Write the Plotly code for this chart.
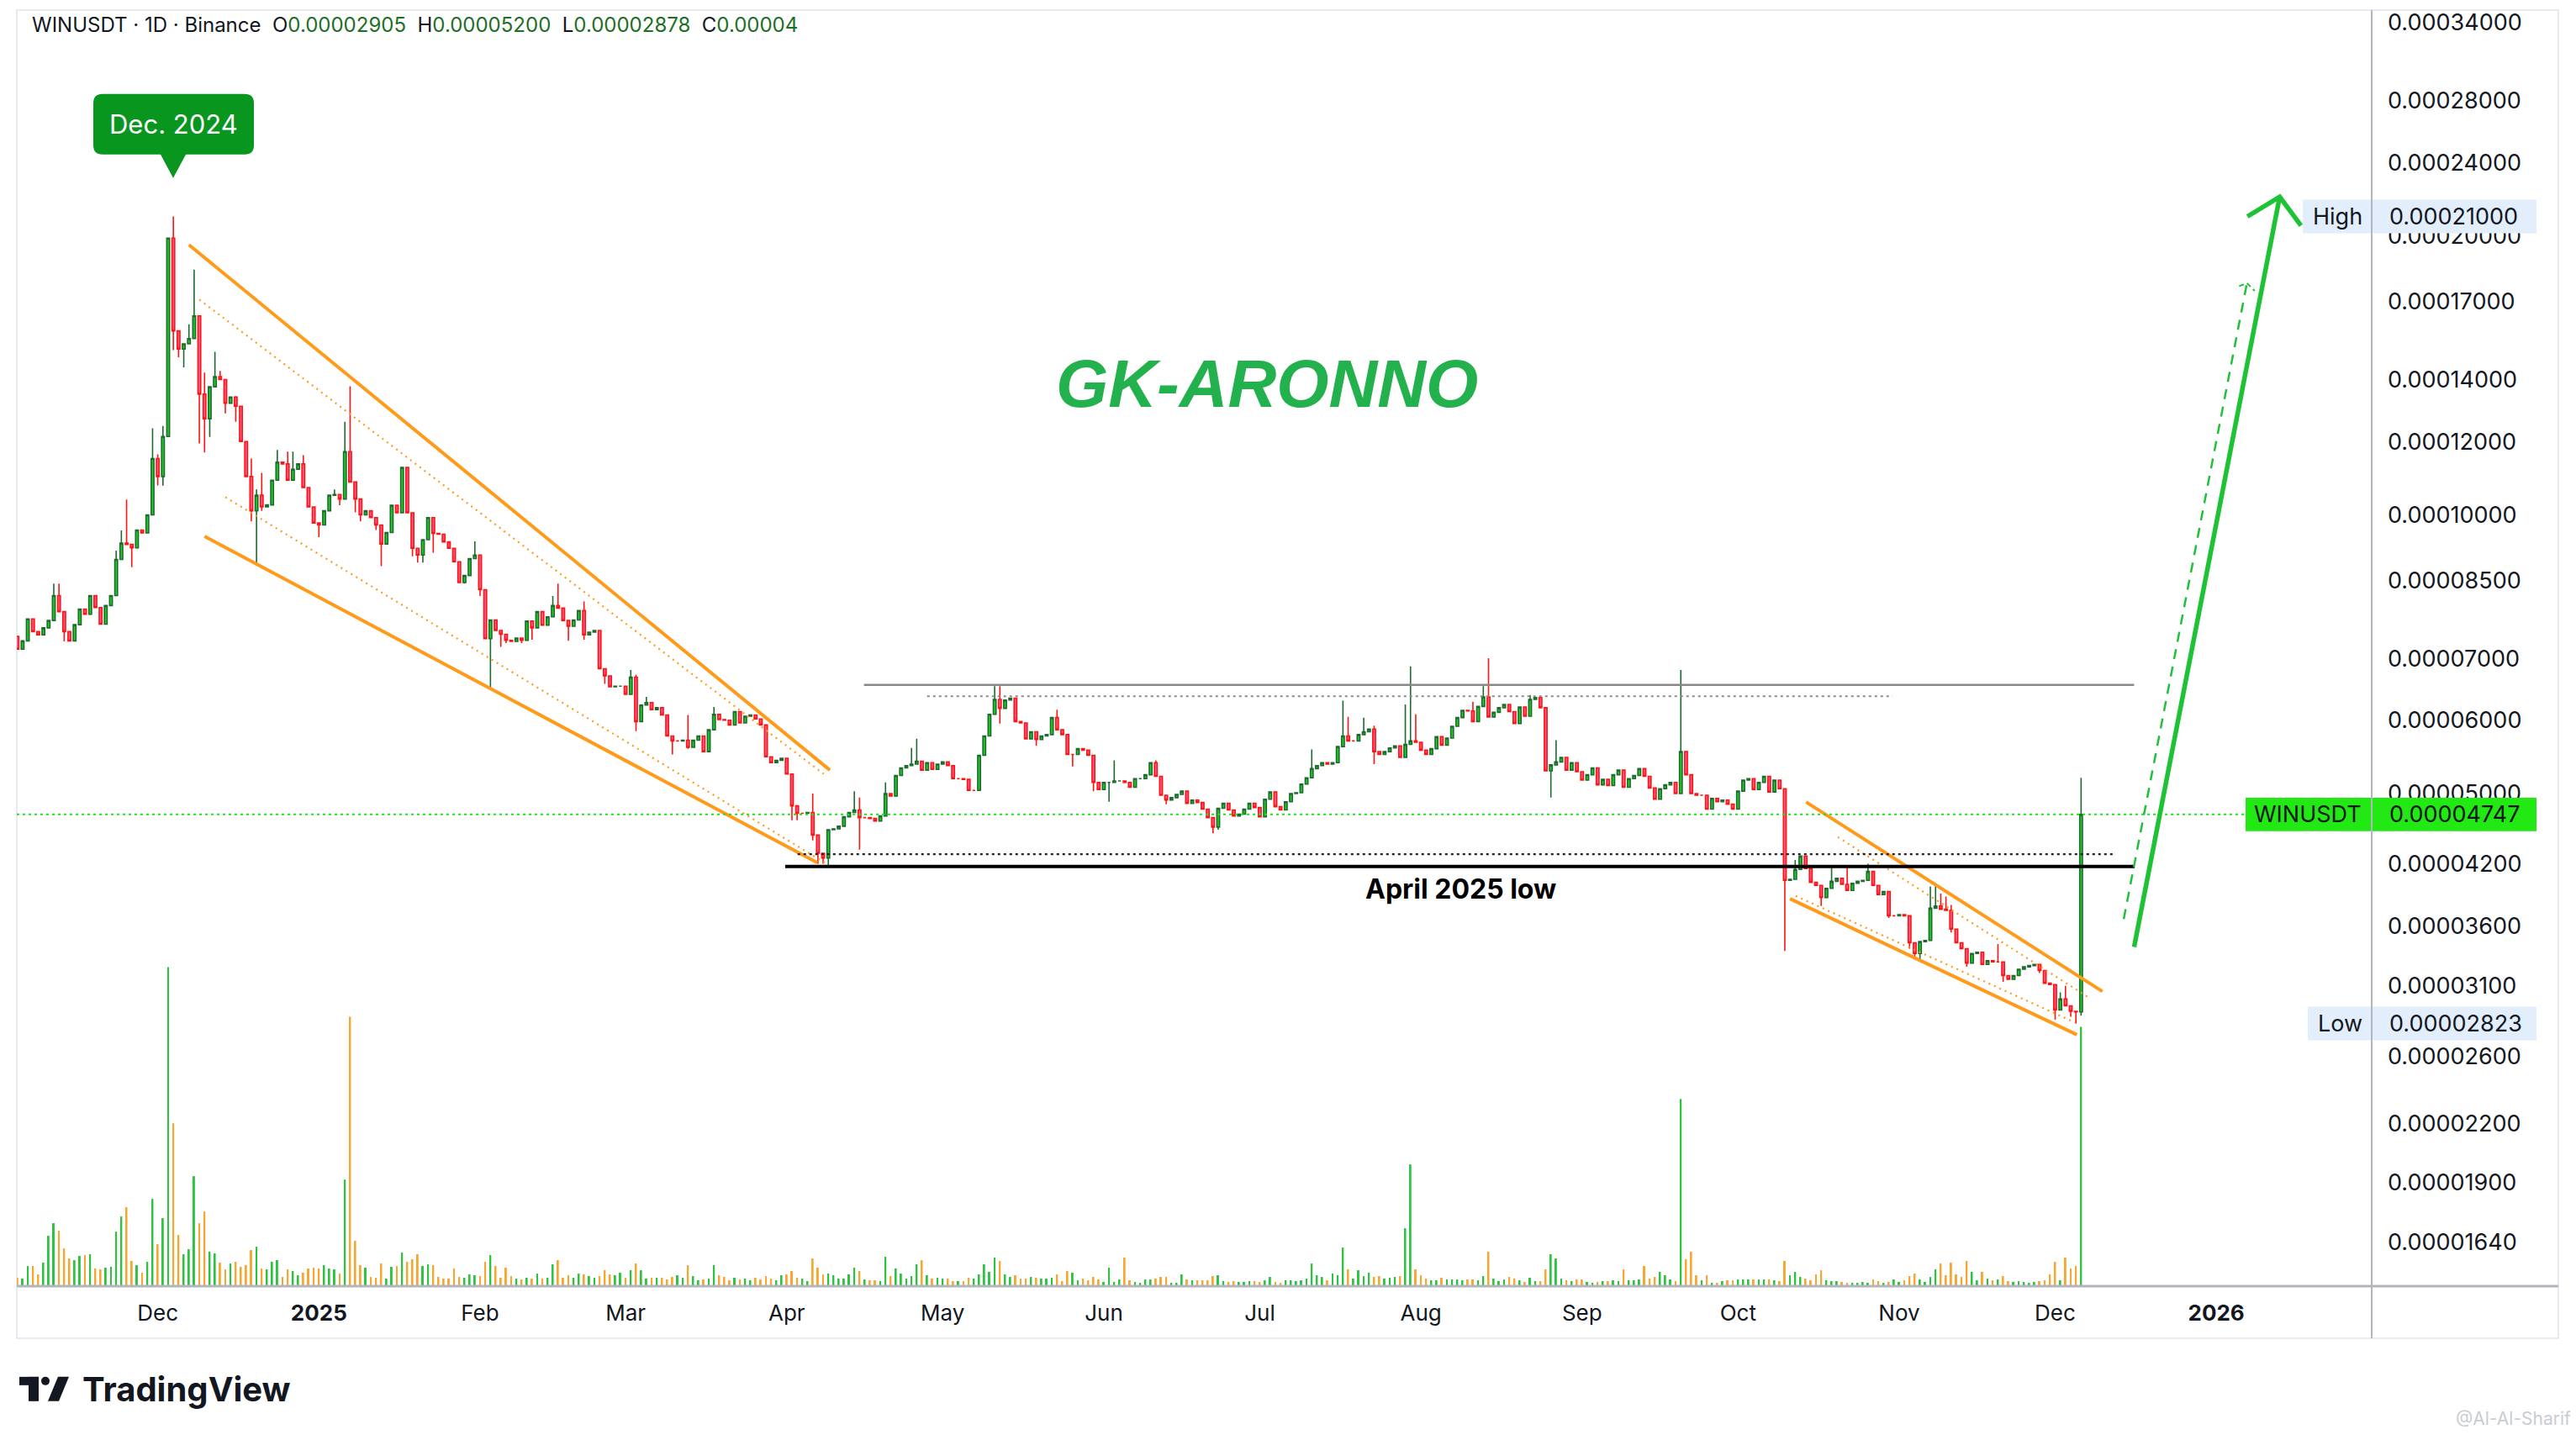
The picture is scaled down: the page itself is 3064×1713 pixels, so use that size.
import math
import pandas as pd
import plotly.graph_objects as go

# ---------------- canvas geometry (pixels) ----------------
W, H = 3064, 1713
PL, PR, PT, PB = 20, 2821, 10, 1530      # plot area
PX_PER_DAY = 6.183
SCALE = 1e-5                              # prices below are in units of 1e-5 USDT

# ---------------- data ----------------
start_date = "2024-11-04"
first_open = 7.39

closes = [
    7.16, 7.31, 7.72, 7.48, 7.42, 7.55, 7.69, 8.18, 7.86, 7.48,
    7.31, 7.61, 7.91, 7.81, 8.18, 7.94, 7.62, 7.98, 8.18, 8.95,
    9.32, 9.29, 9.21, 9.63, 9.56, 10.0, 11.5, 11.0, 12.15, 19.9,
    15.8, 15.1, 15.3, 15.5, 16.4, 13.5, 12.7, 13.75, 14.1, 14.0,
    13.2, 13.4, 13.1, 12.0, 11.0, 10.1, 10.5, 10.2, 10.25, 10.9,
    11.4, 11.35, 10.9, 11.2, 11.35, 10.7, 10.2, 9.8, 9.75, 10.1,
    10.5, 10.52, 10.4, 11.7, 10.85, 10.4, 10.0, 10.1, 9.93, 9.75,
    9.3, 9.57, 10.24, 10.05, 11.25, 10.05, 9.2, 9.05, 9.4, 9.93,
    9.55, 9.53, 9.35, 9.2, 8.9, 8.45, 8.6, 8.97, 9.05, 8.3,
    7.35, 7.7, 7.5, 7.43, 7.32, 7.3, 7.36, 7.32, 7.68, 7.55,
    7.86, 7.6, 7.76, 7.98, 7.93, 7.69, 7.58, 7.7, 7.88, 7.42,
    7.47, 7.5, 6.82, 6.70, 6.52, 6.53, 6.53, 6.40, 6.68, 5.98,
    6.23, 6.27, 6.16, 6.19, 6.08, 5.77, 5.70, 5.70, 5.71, 5.61,
    5.71, 5.77, 5.55, 5.86, 6.09, 6.01, 6.0, 5.93, 6.13, 5.96,
    6.06, 6.08, 6.02, 5.93, 5.48, 5.40, 5.43, 5.46, 5.25, 4.85,
    4.76, 4.76, 4.77, 4.51, 4.31, 4.26, 4.57, 4.58, 4.61, 4.72,
    4.77, 4.80, 4.71, 4.71, 4.70, 4.67, 4.73, 5.0, 4.97, 5.23,
    5.33, 5.36, 5.38, 5.42, 5.30, 5.40, 5.31, 5.38, 5.41, 5.36,
    5.19, 5.19, 5.18, 5.04, 5.04, 5.50, 5.77, 6.09, 6.32, 6.18,
    6.31, 6.34, 5.98, 5.96, 5.73, 5.83, 5.72, 5.77, 5.79, 6.04,
    5.86, 5.79, 5.51, 5.51, 5.59, 5.57, 5.50, 5.14, 5.05, 5.14,
    5.14, 5.16, 5.16, 5.14, 5.08, 5.19, 5.19, 5.24, 5.40, 5.22,
    4.98, 4.92, 4.95, 4.99, 5.03, 4.88, 4.92, 4.89, 4.81, 4.71,
    4.60, 4.82, 4.88, 4.80, 4.73, 4.75, 4.81, 4.88, 4.83, 4.72,
    4.93, 5.02, 4.84, 4.80, 4.90, 5.00, 5.01, 5.12, 5.20, 5.32,
    5.36, 5.40, 5.38, 5.40, 5.62, 5.77, 5.70, 5.70, 5.79, 5.83,
    5.87, 5.55, 5.51, 5.55, 5.60, 5.63, 5.47, 5.65, 5.70, 5.68,
    5.57, 5.51, 5.59, 5.76, 5.64, 5.74, 5.91, 6.04, 6.15, 6.14,
    5.98, 6.21, 6.36, 6.05, 6.12, 6.19, 6.24, 6.13, 5.95, 6.20,
    6.06, 6.32, 6.35, 6.19, 5.29, 5.37, 5.41, 5.47, 5.30, 5.40,
    5.28, 5.17, 5.24, 5.33, 5.11, 5.18, 5.10, 5.24, 5.30, 5.08,
    5.19, 5.23, 5.32, 5.22, 5.07, 4.93, 5.06, 5.11, 5.14, 5.00,
    5.55, 5.24, 5.00, 4.98, 4.98, 4.81, 4.94, 4.90, 4.92, 4.87,
    4.81, 5.03, 5.17, 5.19, 5.05, 5.14, 5.22, 5.02, 5.17, 5.06,
    4.03, 4.04, 4.14, 4.28, 4.15, 4.01, 3.98, 3.86, 3.95, 4.02,
    4.05, 3.99, 3.93, 4.00, 4.02, 4.03, 4.12, 3.98, 3.89, 3.92,
    3.69, 3.69, 3.70, 3.69, 3.45, 3.36, 3.46, 3.47, 3.76, 3.78,
    3.75, 3.74, 3.57, 3.45, 3.40, 3.28, 3.36, 3.37, 3.27, 3.30,
    3.29, 3.29, 3.18, 3.15, 3.18, 3.23, 3.25, 3.26, 3.27, 3.22,
    3.12, 3.11, 2.92, 3.00, 2.95, 2.91, 2.905, 4.747,
]

# notable wicks (candle index -> price)
wick_high = {
    7: 8.43, 8: 8.43, 19: 9.15, 20: 9.62, 21: 10.39, 26: 12.40, 27: 11.62, 28: 12.47,
    30: 21.0, 33: 16.06, 34: 18.40, 36: 14.24, 38: 15.0, 39: 14.3, 42: 13.43, 45: 11.5,
    46: 10.65, 47: 11.1, 50: 11.75, 52: 11.7, 53: 11.7, 55: 11.6, 61: 10.65, 63: 12.6,
    64: 13.77, 69: 9.93, 88: 9.36, 103: 8.17, 104: 8.43, 109: 8.06, 118: 6.80, 119: 6.72,
    121: 6.36, 129: 6.08, 134: 6.20, 153: 5.0, 161: 5.03, 162: 4.95, 167: 5.14, 172: 5.6,
    173: 5.73, 188: 6.53, 189: 6.53, 196: 5.71, 200: 6.16, 211: 5.43, 219: 5.43, 249: 5.58,
    255: 6.30, 256: 6.05, 259: 6.04, 261: 5.92, 267: 6.24, 268: 6.86, 269: 6.09, 280: 6.28,
    282: 6.53, 283: 7.0, 291: 6.39, 296: 5.71, 320: 6.8, 342: 4.24, 349: 4.17, 352: 4.17,
    356: 4.2, 368: 3.97, 369: 3.97, 370: 3.90, 371: 3.87, 372: 3.79, 381: 3.44, 393: 3.05,
    394: 3.10, 397: 5.20,
}
wick_low = {
    9: 7.30, 22: 8.78, 27: 10.76, 28: 10.75, 30: 15.06, 31: 14.8, 32: 14.43, 35: 11.94,
    36: 11.68, 37: 12.14, 40: 12.87, 42: 12.6, 45: 9.84, 46: 8.85, 47: 10.1, 58: 9.46,
    62: 10.24, 65: 10.06, 66: 9.84, 69: 9.63, 70: 8.8, 76: 9.02, 77: 8.88, 78: 8.88,
    80: 9.1, 86: 8.43, 89: 8.17, 91: 6.5, 93: 7.2, 94: 7.27, 97: 7.27, 99: 7.33,
    106: 7.31, 109: 7.33, 113: 6.57, 119: 5.84, 126: 5.51, 129: 5.59, 149: 4.68,
    150: 4.68, 153: 4.45, 154: 4.20, 155: 4.20, 156: 4.17, 162: 4.35, 189: 5.95,
    196: 5.63, 203: 5.35, 207: 5.03, 210: 4.9, 221: 4.87, 230: 4.53, 231: 4.57,
    261: 5.38, 295: 4.95, 340: 3.38, 347: 3.78, 360: 3.67, 364: 3.40, 365: 3.31,
    366: 3.29, 372: 3.54, 375: 3.25, 382: 3.13, 389: 3.20, 392: 2.85, 395: 2.87,
    396: 2.823, 397: 2.878,
}

volume = [
    10, 9, 24, 24, 14, 28, 60, 75, 66, 45,
    33, 31, 36, 37, 38, 21, 20, 22, 23, 65,
    83, 94, 30, 25, 16, 29, 104, 50, 81, 380,
    194, 61, 38, 44, 131, 75, 89, 41, 39, 28,
    20, 27, 29, 23, 25, 43, 47, 21, 20, 29,
    31, 11, 20, 18, 13, 16, 21, 22, 21, 25,
    21, 20, 15, 127, 321, 54, 25, 22, 11, 10,
    27, 9, 23, 24, 40, 29, 32, 38, 24, 26,
    25, 11, 9, 9, 21, 11, 10, 14, 13, 12,
    29, 37, 24, 10, 22, 12, 9, 8, 10, 9,
    15, 9, 10, 26, 31, 10, 13, 10, 15, 14,
    12, 10, 12, 19, 14, 13, 16, 10, 19, 27,
    19, 9, 10, 10, 10, 8, 11, 13, 10, 25,
    12, 7, 8, 9, 25, 13, 11, 7, 10, 8,
    9, 7, 10, 8, 12, 9, 7, 13, 14, 18,
    10, 9, 6, 33, 22, 14, 15, 13, 9, 9,
    14, 22, 18, 8, 7, 7, 6, 35, 12, 21,
    15, 9, 12, 26, 31, 13, 9, 10, 9, 9,
    6, 6, 6, 10, 9, 14, 26, 17, 34, 30,
    14, 11, 13, 9, 9, 11, 10, 9, 9, 10,
    14, 6, 18, 16, 7, 9, 7,
    11, 8, 5,
    22, 5, 8, 34, 7, 5, 4, 8, 8, 9,
    11, 11, 4, 4, 14, 8, 7, 7, 7, 7,
    12, 13, 6, 5, 6, 5, 5, 6, 6, 5,
    7, 11, 5, 4, 7, 7, 6, 7, 9, 27,
    13, 11, 7, 15, 13, 46, 20, 9, 19, 12,
    16, 11, 12, 9, 10, 11, 12, 69, 145, 20,
    13, 9, 7, 7, 10, 8, 8, 8, 7, 8,
    8, 7, 12, 41, 9, 6, 8, 11, 9, 7,
    5, 10, 6, 6, 20, 38, 33, 9, 7, 6,
    8, 8, 5, 4, 5, 6, 6, 7, 6, 20,
    7, 7, 8, 24, 9, 11, 17, 13, 8, 6,
    223, 32, 41, 13, 7, 13, 4, 4, 6, 7,
    7, 8, 8, 8, 8, 8, 8, 8, 7, 6,
    30, 13, 17, 11, 9, 7, 14, 19, 7, 6,
    6, 5, 4, 4, 4, 5, 4, 8, 6, 4,
    5, 8, 5, 7, 12, 15, 8, 5, 11, 20,
    27, 13, 28, 14, 11, 30, 17, 7, 17, 9,
    7, 8, 12, 6, 5, 6, 5, 4, 5, 6,
    7, 14, 29, 7, 34, 21, 24, 309,
]

price_ticks = [34, 28, 24, 20, 17, 14, 12, 10, 8.5, 7, 6, 5, 4.2, 3.6, 3.1, 2.6, 2.2, 1.9, 1.64]
month_ticks = ["2024-12-01", "2025-01-01", "2025-02-01", "2025-03-01", "2025-04-01",
               "2025-05-01", "2025-06-01", "2025-07-01", "2025-08-01", "2025-09-01",
               "2025-10-01", "2025-11-01", "2025-12-01", "2026-01-01"]
month_labels = ["Dec", "<b>2025</b>", "Feb", "Mar", "Apr", "May", "Jun", "Jul", "Aug",
                "Sep", "Oct", "Nov", "Dec", "<b>2026</b>"]

last_price = 4.747
high_price = 21.0
low_price = 2.823

# drawings: (day offset from start_date, price)
wedge1_upper = [(33.0, 19.57), (156.3, 5.30)]
wedge1_lower = [(36.0, 9.48), (153.9, 4.21)]
wedge1_upper_dot = [(35.0, 17.08), (155.1, 5.25)]
wedge1_lower_dot = [(40.0, 10.45), (155.6, 4.20)]
wedge2_upper = [(344.1, 4.896), (401.1, 3.057)]
wedge2_lower = [(341.0, 3.85), (396.2, 2.745)]
wedge2_upper_dot = [(350.2, 4.487), (398.7, 3.005)]
wedge2_lower_dot = [(342.1, 3.876), (395.8, 2.83)]
resistance = [(162.85, 6.55), (407.2, 6.55)]
resistance_dot = [(175.0, 6.37), (360.7, 6.37)]
april_low = [(147.7, 4.17), (407.3, 4.17)]
april_low_dot = [(150.1, 4.30), (403.6, 4.30)]
arrow_main = [(407.2, 3.415), (435.2, 22.05)]
arrow_main_head = [(429.0, 21.0), (435.2, 22.05), (439.3, 20.53)]
arrow_dash = [(405.2, 3.66), (428.9, 17.79)]
arrow_dash_head = [(427.4, 17.66), (428.9, 17.79), (430.4, 17.45)]

# ---------------- derived ----------------
dates = pd.date_range(start_date, periods=len(closes), freq="D")
opens = [first_open] + closes[:-1]
highs = [max(o, c, wick_high.get(i, 0)) for i, (o, c) in enumerate(zip(opens, closes))]
lows = [min(o, c, wick_low.get(i, 1e9)) for i, (o, c) in enumerate(zip(opens, closes))]
base = pd.Timestamp(start_date)


def D(d):
    return base + pd.Timedelta(days=d)


def PX(x):
    return (x - PL) / (PR - PL)


def PY(y):
    return (PB - y) / (PB - PT)


x_range = [D(-(0.7) / PX_PER_DAY), D((PR - PL - 0.7) / PX_PER_DAY)]
log_top = math.log10(34e-5) + (25 - PT) / 1103.0
log_bot = math.log10(34e-5) - (PB - 25) / 1103.0

GREEN_VOL = "#2cc43f"
ORANGE_VOL = "#f8a630"
vol_colors = [GREEN_VOL if c >= o else ORANGE_VOL for o, c in zip(opens, closes)]

fig = go.Figure()

fig.add_trace(go.Bar(
    x=dates, y=volume, yaxis="y2", marker_color=vol_colors, marker_line_width=0,
    width=0.32 * 86400000, hoverinfo="skip", showlegend=False,
))

fig.add_trace(go.Candlestick(
    x=dates,
    open=[v * SCALE for v in opens], high=[v * SCALE for v in highs],
    low=[v * SCALE for v in lows], close=[v * SCALE for v in closes],
    increasing=dict(line=dict(color="#1d6b30", width=1.6), fillcolor="#1fd01f"),
    decreasing=dict(line=dict(color="#ff1414", width=1.6), fillcolor="#ff5a8c"),
    whiskerwidth=0, hoverinfo="skip", showlegend=False,
))


def add_line(pts, color, width, dash="solid"):
    fig.add_trace(go.Scatter(
        x=[D(p[0]) for p in pts], y=[p[1] * SCALE for p in pts], mode="lines",
        line=dict(color=color, width=width, dash=dash), hoverinfo="skip", showlegend=False,
    ))


ORANGE = "#ff9a1a"
add_line(wedge1_upper_dot, ORANGE, 2.2, "2px,5px")
add_line(wedge1_lower_dot, ORANGE, 2.2, "2px,5px")
add_line(wedge2_upper_dot, ORANGE, 2.2, "2px,5px")
add_line(wedge2_lower_dot, ORANGE, 2.2, "2px,5px")
add_line(wedge1_upper, ORANGE, 4)
add_line(wedge1_lower, ORANGE, 4)
add_line(wedge2_upper, ORANGE, 4)
add_line(wedge2_lower, ORANGE, 4)
add_line(resistance, "#888888", 2.5)
add_line(resistance_dot, "#8a8a8a", 2, "3px,4px")
add_line(april_low, "#000000", 4)
add_line(april_low_dot, "#222222", 2.2, "3px,4px")
# current price line across the whole pane
fig.add_trace(go.Scatter(
    x=x_range, y=[last_price * SCALE] * 2, mode="lines",
    line=dict(color="#22e01a", width=2, dash="3px,4px"), hoverinfo="skip", showlegend=False,
))
add_line(arrow_dash, "#22c03a", 2.5, "12px,9px")
add_line(arrow_dash_head, "#22c03a", 2, "6px,4px")
add_line(arrow_main, "#1ec235", 5.5)
add_line(arrow_main_head, "#1ec235", 5.5)

FONT = "Inter, Roboto, sans-serif"
TXT = "#131722"

shapes = []
annotations = []

# pane frame and separators
shapes.append(dict(type="rect", xref="paper", yref="paper", x0=PX(20), x1=PX(3043),
                   y0=PY(1592), y1=PY(10), line=dict(color="#e0e3eb", width=1.5),
                   fillcolor="rgba(0,0,0,0)", layer="below"))


def label_box(x0, x1, yc, h, fill):
    shapes.append(dict(type="rect", xref="paper", yref="paper", x0=PX(x0), x1=PX(x1),
                       y0=PY(yc + h / 2), y1=PY(yc - h / 2), line=dict(width=0),
                       fillcolor=fill, layer="above"))


def price_y(p):
    return 25 + math.log10(34 / p) * 1103


yh = price_y(high_price)
yl = price_y(low_price)
yc = price_y(last_price)
label_box(2739, 3017, yh, 40, "#e3eefc")
label_box(2745, 3017, yl, 40, "#e3eefc")
label_box(2671, 3017, yc, 40, "#22e814")

shapes.append(dict(type="line", xref="paper", yref="paper", x0=PX(2821), x1=PX(2821),
                   y0=PY(1592), y1=PY(10), line=dict(color="#b2b5be", width=2), layer="above"))
shapes.append(dict(type="line", xref="paper", yref="paper", x0=PX(20), x1=PX(3043),
                   y0=PY(1530), y1=PY(1530), line=dict(color="#b2b5be", width=3), layer="above"))


def ann(x, y, text, size, color=TXT, xanchor="center", family=FONT, **kw):
    annotations.append(dict(x=PX(x), y=PY(y), xref="paper", yref="paper", text=text,
                            showarrow=False, xanchor=xanchor, yanchor="middle",
                            font=dict(size=size, color=color, family=family), **kw))


ann(2780, yh, "High", 27)
ann(2840, yh, f"{high_price * SCALE:.8f}", 27, xanchor="left")
ann(2783, yl, "Low", 27)
ann(2840, yl, f"{low_price * SCALE:.8f}", 27, xanchor="left")
ann(2745, yc, "WINUSDT", 27)
ann(2840, yc, f"{last_price * SCALE:.8f}", 27, xanchor="left")

# header
G = "#1e6e25"
nb = "\u00a0"
header = (f"WINUSDT · 1D · Binance{nb}{nb}O<span style='color:{G}'>0.00002905</span>{nb}{nb}"
          f"H<span style='color:{G}'>0.00005200</span>{nb}{nb}"
          f"L<span style='color:{G}'>0.00002878</span>{nb}{nb}"
          f"C<span style='color:{G}'>0.00004</span>")
ann(36, 28, header, 24, xanchor="left")

# Dec. 2024 callout
bx0, bx1, by0, by1, r = 111, 302, 110, 182, 11
pts = [("M", bx0 + r, by0), ("L", bx1 - r, by0), ("Q", bx1, by0, bx1, by0 + r),
       ("L", bx1, by1 - r), ("Q", bx1, by1, bx1 - r, by1), ("L", 221, by1), ("L", 206, 210),
       ("L", 191, by1), ("L", bx0 + r, by1), ("Q", bx0, by1, bx0, by1 - r),
       ("L", bx0, by0 + r), ("Q", bx0, by0, bx0 + r, by0)]
path = ""
for p in pts:
    cmd = p[0]
    coords = p[1:]
    seg = " ".join(f"{PX(coords[i]):.5f},{PY(coords[i + 1]):.5f}" for i in range(0, len(coords), 2))
    path += f"{cmd}{seg} "
path += "Z"
shapes.append(dict(type="path", xref="paper", yref="paper", path=path,
                   fillcolor="#08961e", line=dict(width=0), layer="above"))
ann(206, 146, "Dec. 2024", 31, color="white")

# texts on chart
ann(1507, 455, "<b><i>GK-ARONNO</i></b>", 80, color="#22b14c", family="Liberation Sans, Arial, sans-serif")
ann(1737, 1057, "<b>April 2025 low</b>", 32, color="#000000")

# TradingView logo
shapes.append(dict(type="rect", xref="paper", yref="paper", x0=PX(23), x1=PX(46),
                   y0=PY(1648), y1=PY(1638), fillcolor="#131722", line=dict(width=0), layer="above"))
shapes.append(dict(type="rect", xref="paper", yref="paper", x0=PX(34), x1=PX(46),
                   y0=PY(1667), y1=PY(1638), fillcolor="#131722", line=dict(width=0), layer="above"))
shapes.append(dict(type="circle", xref="paper", yref="paper", x0=PX(49), x1=PX(59),
                   y0=PY(1648), y1=PY(1638), fillcolor="#131722", line=dict(width=0), layer="above"))
tv = [(57, 1667), (69, 1638), (82, 1638), (70, 1667)]
shapes.append(dict(type="path", xref="paper", yref="paper",
                   path="M" + " L".join(f"{PX(a):.5f},{PY(b):.5f}" for a, b in tv) + " Z",
                   fillcolor="#131722", line=dict(width=0), layer="above"))
ann(96, 1653, "<b>TradingView</b>", 40, xanchor="left")
ann(3060, 1688, "@Al-Al-Sharif", 21, color="#c9ccd2", xanchor="right")

fig.update_layout(
    width=W, height=H,
    margin=dict(l=PL, r=W - PR, t=PT, b=H - PB, pad=0),
    paper_bgcolor="white", plot_bgcolor="white",
    showlegend=False, hovermode=False, boxgap=0.25,
    xaxis=dict(type="date", range=x_range, showgrid=False, zeroline=False, showline=False,
               rangeslider=dict(visible=False), tickvals=month_ticks, ticktext=month_labels,
               ticks="", ticklabelstandoff=14, tickfont=dict(size=26, color=TXT, family=FONT)),
    yaxis=dict(type="log", range=[log_bot, log_top], side="right", showgrid=False,
               zeroline=False, showline=False, ticks="", ticklabelstandoff=18,
               tickvals=[v * SCALE for v in price_ticks],
               ticktext=[f"{v * SCALE:.8f}" for v in price_ticks],
               tickfont=dict(size=27, color=TXT, family=FONT)),
    yaxis2=dict(overlaying="y", range=[0, PB - PT], visible=False, fixedrange=True),
    shapes=shapes, annotations=annotations,
)

fig.write_html("out.html", config={"displayModeBar": False},
               post_script="document.body.style.margin='0px';")
